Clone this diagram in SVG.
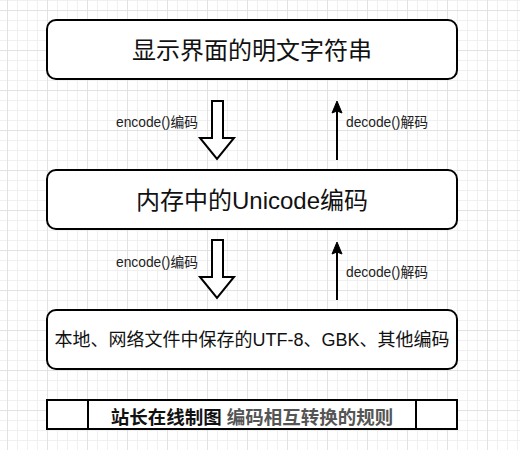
<svg xmlns="http://www.w3.org/2000/svg" width="520" height="450" viewBox="0 0 520 450">
  <defs>
    <pattern id="minor" patternUnits="userSpaceOnUse" x="7" y="10" width="10" height="10">
      <path d="M0 0.5H10M0.5 0V10" fill="none" stroke="#f0f0f0" stroke-width="1"/>
    </pattern>
    <pattern id="major" patternUnits="userSpaceOnUse" x="7" y="10" width="40" height="40">
      <path d="M0 0.5H40M0.5 0V40" fill="none" stroke="#e2e2e2" stroke-width="1"/>
    </pattern>
    <style>
      .box { fill: #fff; stroke: #000; stroke-width: 2; }
      .main { font-family: "Liberation Sans", "Noto Sans CJK SC", sans-serif; fill: #111; text-anchor: middle; }
      .lbl { font-family: "Liberation Sans", "Noto Sans CJK SC", sans-serif; font-size: 13.8px; fill: #222; }
      .hollow { fill: #fff; stroke: #000; stroke-width: 2; stroke-linejoin: miter; }
      .thin { stroke: #000; stroke-width: 2; fill: none; }
      .head { fill: #000; stroke: #000; stroke-width: 1; }
    </style>
  </defs>
  <rect width="520" height="450" fill="#fff"/>
  <rect width="520" height="450" fill="url(#minor)"/>
  <rect width="520" height="450" fill="url(#major)"/>

  <g id="node-display">
    <rect class="box" x="47" y="20" width="410" height="59" rx="9"/>
    <text class="main" x="252" y="59" font-size="24">显示界面的明文字符串</text>
  </g>
  <g id="node-unicode">
    <rect class="box" x="47" y="170" width="410" height="59" rx="9"/>
    <text class="main" x="252" y="209" font-size="24">内存中的Unicode编码</text>
  </g>
  <g id="node-files">
    <rect class="box" x="47" y="310" width="410" height="59" rx="9"/>
    <text class="main" x="252" y="346" font-size="18">本地、网络文件中保存的UTF-8、GBK、其他编码</text>
  </g>
  <g id="node-title">
    <rect class="box" x="47" y="400" width="410" height="29"/>
    <line x1="88" y1="400" x2="88" y2="429" stroke="#000" stroke-width="2"/>
    <line x1="416" y1="400" x2="416" y2="429" stroke="#000" stroke-width="2"/>
    <text x="252" y="424" font-size="18.5" font-weight="bold" text-anchor="middle" font-family="Liberation Sans, Noto Sans CJK SC, sans-serif"><tspan fill="#111">站长在线制图 </tspan><tspan fill="#555">编码相互转换的规则</tspan></text>
  </g>

  <g id="connectors">
    <path class="hollow" d="M212 101H223V138H234L217 159L200 138H212Z"/>
    <path class="hollow" d="M212 240H223V277H234L217 298L200 277H212Z"/>
    <line class="thin" x1="337" y1="160" x2="337" y2="108"/>
    <path class="head" d="M337 101L342 113L337 111L332 113Z"/>
    <line class="thin" x1="337" y1="300" x2="337" y2="249"/>
    <path class="head" d="M337 242L342 254L337 252L332 254Z"/>
    <text class="lbl" x="116" y="127">encode()编码</text>
    <text class="lbl" x="346" y="127">decode()解码</text>
    <text class="lbl" x="116" y="267">encode()编码</text>
    <text class="lbl" x="346" y="277">decode()解码</text>
  </g>
</svg>
